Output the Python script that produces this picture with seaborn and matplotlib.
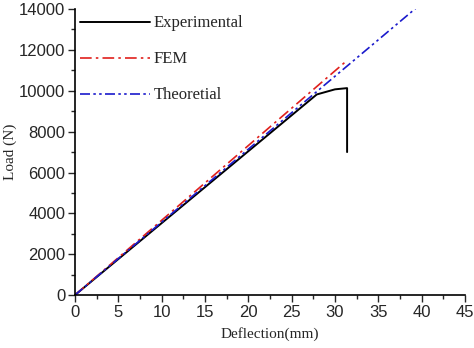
import matplotlib
matplotlib.use("Agg")
import matplotlib.pyplot as plt
import seaborn as sns
import pandas as pd
from matplotlib.ticker import MultipleLocator

sns.set_style("ticks")

exp_x = [0, 27.9, 30.0, 31.4, 31.4]
exp_y = [0, 9820, 10070, 10130, 7000]
fem_x = [0, 31.3]
fem_y = [0, 11450]
theo_x = [0, 39.3]
theo_y = [0, 14030]

fig = plt.figure(figsize=(4.74, 3.48), dpi=100)
ax = fig.add_axes([0.158, 0.152, 0.823, 0.822])

sns.lineplot(x=exp_x, y=exp_y, sort=False, ax=ax, color="black", lw=1.4, label="Experimental", estimator=None)
sns.lineplot(x=fem_x, y=fem_y, sort=False, ax=ax, color="#e0201c", lw=1.2, label="FEM", estimator=None)
sns.lineplot(x=theo_x, y=theo_y, sort=False, ax=ax, color="#1a1acc", lw=1.2, label="Theoretial", estimator=None)
ax.lines[1].set_linestyle((0, (7, 2.5, 1.5, 2.5)))
ax.lines[2].set_linestyle((0, (6, 2, 1.5, 2, 1.5, 2)))

ax.set_xlim(0, 45)
ax.set_ylim(0, 14000)
ax.xaxis.set_major_locator(MultipleLocator(5))
ax.xaxis.set_minor_locator(MultipleLocator(2.5))
ax.yaxis.set_major_locator(MultipleLocator(2000))
ax.yaxis.set_minor_locator(MultipleLocator(1000))
ax.tick_params(which="major", direction="out", length=5, width=1, labelsize=12, pad=2)
ax.tick_params(which="minor", direction="out", length=3, width=1)
for lab in ax.get_xticklabels() + ax.get_yticklabels():
    lab.set_fontfamily("Liberation Sans")
sns.despine(ax=ax)
for s in ["left", "bottom"]:
    ax.spines[s].set_linewidth(1.2)
    ax.spines[s].set_color("black")

ax.set_xlabel("Deflection(mm)", fontfamily="Liberation Serif", fontsize=11, labelpad=5)
ax.set_ylabel("Load (N)", fontfamily="Liberation Serif", fontsize=11, labelpad=1)

leg = ax.legend(loc="upper left", bbox_to_anchor=(-0.025, 1.03), frameon=False,
                handlelength=4.2, labelspacing=1.2, handletextpad=0.2,
                prop={"family": "Liberation Serif", "size": 12})

fig.savefig("out.png", dpi=100)
